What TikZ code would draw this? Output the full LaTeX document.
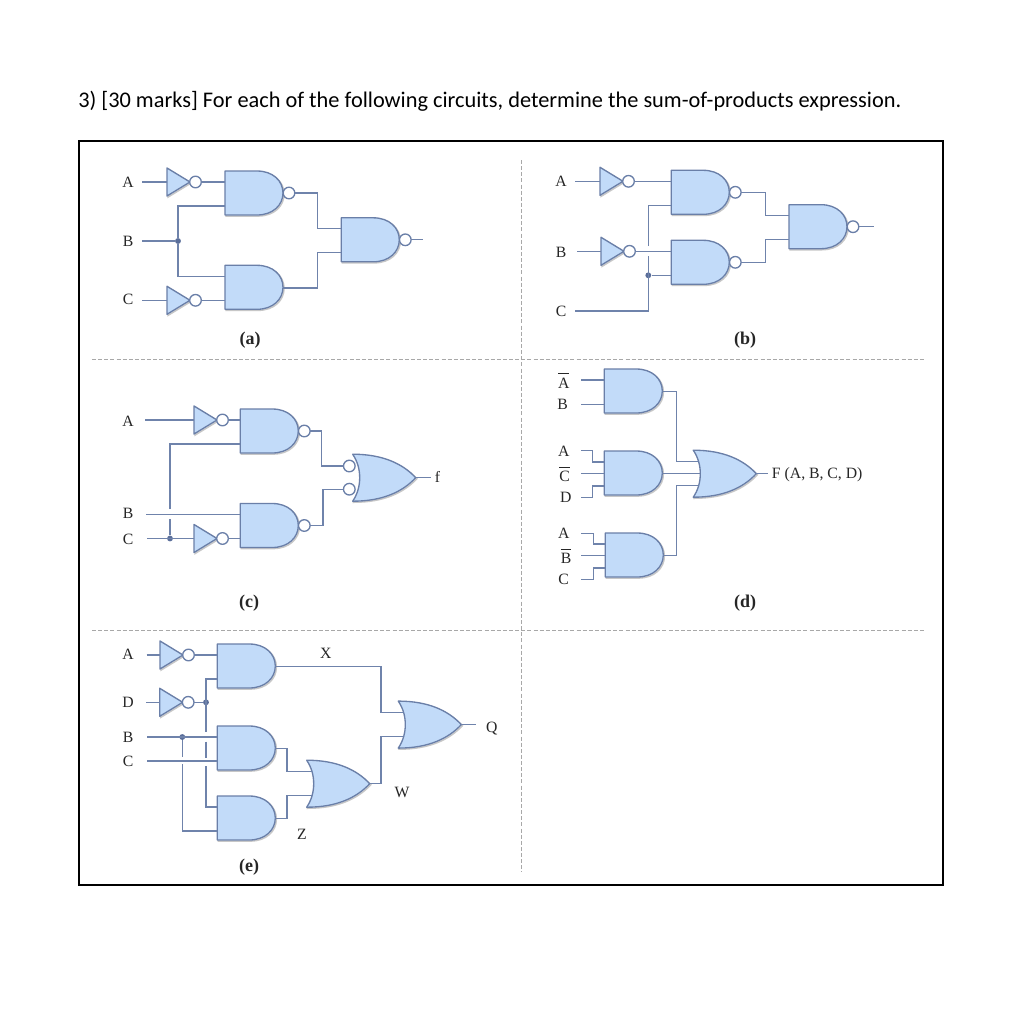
\documentclass[tikz,border=0pt]{standalone}
\usepackage{fontspec}
\setmainfont{Liberation Serif}
\newfontfamily\titlefont{Carlito}
\definecolor{gatefill}{HTML}{C2DBF9}
\definecolor{gateline}{HTML}{6A7FA8}
\definecolor{wirecol}{HTML}{6F83AB}
\definecolor{dotcol}{HTML}{5A6E9A}
\definecolor{sepcol}{HTML}{A8A8A8}
\tikzset{
  x=0.75pt,y=-0.75pt,
  wire/.style={draw=wirecol,line width=1pt},
  gatebody/.style={draw=gateline,line width=1pt,fill=gatefill,line join=round,
    preaction={draw=black!22,line width=1.1pt,transform canvas={xshift=.8pt,yshift=-.8pt}}},
  bubble/.style={draw=gateline,line width=1pt,fill=white},
  jdot/.style={circle,fill=dotcol,inner sep=0pt,minimum size=4.4pt},
  lab/.style={font=\fontsize{11.8}{13}\selectfont,inner sep=0pt,text=black!85},
  captext/.style={font=\fontsize{13.5}{15}\selectfont\bfseries,inner sep=0pt,text=black!85},
  sep/.style={draw=sepcol,line width=0.75pt,dash pattern=on 3pt off 1.6pt},
  andg/.pic={
    \path[gatebody] (0,0) -- (32,0) .. controls (48,0) and (58,10) .. (58,22)
       .. controls (58,34) and (48,44) .. (32,44) -- (0,44) -- cycle;
    \coordinate (-i1) at (0,11); \coordinate (-i2) at (0,35);
    \coordinate (-m) at (0,22.7); \coordinate (-o) at (58,22.7);
  },
  nandg/.pic={
    \path[gatebody] (0,0) -- (32,0) .. controls (48,0) and (58,10) .. (58,22)
       .. controls (58,34) and (48,44) .. (32,44) -- (0,44) -- cycle;
    \path[bubble] (64,22) circle[radius=5.8];
    \coordinate (-i1) at (0,11); \coordinate (-i2) at (0,35);
    \coordinate (-o) at (69.8,22);
  },
  invg/.pic={
    \path[gatebody] (0,-14) -- (23,0) -- (0,14) -- cycle;
    \path[bubble] (28.5,0) circle[radius=5.8];
    \coordinate (-i) at (0,0); \coordinate (-o) at (34.3,0);
  },
  org/.pic={
    \path[gatebody] (0,-23.5) .. controls (30,-23.5) and (50,-14) .. (63,0)
       .. controls (50,14) and (30,23.5) .. (0,23.5)
       .. controls (5,16) and (7,8) .. (7,0) .. controls (7,-8) and (5,-16) .. (0,-23.5) -- cycle;
    \coordinate (-i1) at (5,-12); \coordinate (-i2) at (5,12);
    \coordinate (-m) at (7,0); \coordinate (-o) at (63,0);
  },
  norg/.pic={
    \path[gatebody] (0,-23.5) .. controls (30,-23.5) and (50,-14) .. (63,0)
       .. controls (50,14) and (30,23.5) .. (0,23.5)
       .. controls (5,16) and (7,8) .. (7,0) .. controls (7,-8) and (5,-16) .. (0,-23.5) -- cycle;
    \path[bubble] (-3.4,-11.7) circle[radius=5.8];
    \path[bubble] (-3.4,11.5) circle[radius=5.8];
    \coordinate (-i1) at (-9.2,-11.7); \coordinate (-i2) at (-9.2,11.5);
    \coordinate (-o) at (63,0);
  },
}
\newcommand{\barred}[1]{$\overline{\hbox{\rule{0pt}{0.84em}#1}}$}
\begin{document}
\begin{tikzpicture}
\useasboundingbox (0,0) rectangle (1024,1018);
\path[fill=white] (0,0) rectangle (1024,1018);
\node[anchor=west,inner sep=0pt,font=\titlefont\fontsize{16.76}{20}\selectfont] (title) at (78,101.5)
  {3) [30 marks] For each of the following circuits, determine the sum-of-products expression.};
\node[draw=black,line width=1.1pt,inner sep=0pt,outer sep=0pt,minimum width=648pt,minimum height=558pt,anchor=north west] (frame) at (79,141) {};
% separators
\coordinate (sv1) at (521.5,160); \coordinate (sv2) at (521.5,872);
\coordinate (sh1) at (92,359.5); \coordinate (sh2) at (926,359.5);
\coordinate (sk1) at (92,630.5); \coordinate (sk2) at (926,630.5);
\draw[sep] (sv1) -- (sv2);
\draw[sep] (sh1) -- (sh2);
\draw[sep] (sk1) -- (sk2);

% ---------- (a)
\pic (ai1) at (167,182) {invg};
\pic (ai2) at (167,300.3) {invg};
\pic (a1) at (225,171) {nandg};
\pic (a2) at (225,265.3) {andg};
\pic (a3) at (341.3,217.8) {nandg};
\node[lab] (aA) at (128,182) {A};
\node[lab] (aB) at (128,241) {B};
\node[lab] (aC) at (128,299.5) {C};
\node[captext] (acap) at (250,340.5) {(a)};
\coordinate (aAs) at (142,182); \coordinate (aBs) at (142,241); \coordinate (aCs) at (142,300.3);
\coordinate (aout) at (423,239.8); \coordinate (am) at (317.3,200);
\node[jdot] (aj) at (178,241) {};
\draw[wire] (aAs) -- (ai1-i);
\draw[wire] (ai1-o) -- (a1-i1);
\draw[wire] (aCs) -- (ai2-i);
\draw[wire] (ai2-o) -- (a2-i2);
\draw[wire] (aBs) -- (aj);
\draw[wire] (a1-i2) -| (aj) |- (a2-i1);
\draw[wire] (a1-o) -| (am |- a3-i1) -- (a3-i1);
\draw[wire] (a2-o) -| (am |- a3-i2) -- (a3-i2);
\draw[wire] (a3-o) -- (aout);

% ---------- (b)
\pic (bi1) at (600,181.3) {invg};
\pic (bi2) at (601,251.3) {invg};
\pic (b1) at (671.3,170.3) {nandg};
\pic (b2) at (671.3,240.3) {nandg};
\pic (b3) at (789,204.7) {nandg};
\node[lab] (bA) at (561,181) {A};
\node[lab] (bB) at (561,252) {B};
\node[lab] (bC) at (561,311) {C};
\node[captext] (bcap) at (745,340.5) {(b)};
\coordinate (bAs) at (575,181.3); \coordinate (bBs) at (577,251.3); \coordinate (bCs) at (575,311);
\coordinate (bout) at (874,226.7); \coordinate (bm) at (765.7,200);
\coordinate (bv) at (648.3,311); \coordinate (bg1) at (648.3,246); \coordinate (bg2) at (648.3,255.5);
\node[jdot] (bj) at (648.3,275.3) {};
\draw[wire] (bAs) -- (bi1-i);
\draw[wire] (bi1-o) -- (b1-i1);
\draw[wire] (bBs) -- (bi2-i);
\draw[wire] (bi2-o) -- (b2-i1);
\draw[wire] (bj) -- (b2-i2);
\draw[wire] (bCs) -- (bv) -- (bg2);
\draw[wire] (bg1) |- (b1-i2);
\draw[wire] (b1-o) -| (bm |- b3-i1) -- (b3-i1);
\draw[wire] (b2-o) -| (bm |- b3-i2) -- (b3-i2);
\draw[wire] (b3-o) -- (bout);

% ---------- (c)
\pic (ci1) at (194,420) {invg};
\pic (ci2) at (194,538.5) {invg};
\pic (c1) at (240.3,409) {nandg};
\pic (c2) at (240.3,503.5) {nandg};
\pic (c3) at (352.7,477.7) {norg};
\node[lab] (cA) at (128,421) {A};
\node[lab] (cB) at (128,513) {B};
\node[lab] (cC) at (128,539) {C};
\node[lab,anchor=west] (cf) at (434.5,477) {f};
\node[captext] (ccap) at (249,603.5) {(c)};
\coordinate (cAs) at (145,420); \coordinate (cBs) at (146,514.5); \coordinate (cCs) at (147,538.5);
\coordinate (cout) at (430.7,477.7); \coordinate (cm1) at (321.7,440); \coordinate (cm2) at (323,500);
\coordinate (cg1) at (170,509); \coordinate (cg2) at (170,518.5);
\node[jdot] (cj) at (170,538.5) {};
\draw[wire] (cAs) -- (ci1-i);
\draw[wire] (ci1-o) -- (c1-i1);
\draw[wire] (cBs) -- (c2-i1);
\draw[wire] (cCs) -- (ci2-i);
\draw[wire] (ci2-o) -- (c2-i2);
\draw[wire] (cg1) |- (c1-i2);
\draw[wire] (cj) -- (cg2);
\draw[wire] (c1-o) -| (cm1 |- c3-i1) -- (c3-i1);
\draw[wire] (c2-o) -| (cm2 |- c3-i2) -- (c3-i2);
\draw[wire] (c3-o) -- (cout);

% ---------- (d)
\pic (d1) at (604.3,369) {andg};
\pic (d2) at (604.3,451) {andg};
\pic (d3) at (605.3,533) {andg};
\pic (d4) at (693.3,473.7) {org};
\node[lab] (dA1) at (563.7,380.5) {\barred{A}};
\node[lab] (dB1) at (562.7,404) {B};
\node[lab] (dA2) at (563.7,451.5) {A};
\node[lab] (dC2) at (564.7,474) {\barred{C}};
\node[lab] (dD2) at (565.7,497.7) {D};
\node[lab] (dA3) at (563.7,533.5) {A};
\node[lab] (dB3) at (566,556) {\barred{B}};
\node[lab] (dC3) at (563.7,579) {C};
\node[lab,anchor=west] (dF) at (771.7,474.5) {F (A, B, C, D)};
\node[captext] (dcap) at (745,603.5) {(d)};
\coordinate (d1a) at (581,380); \coordinate (d1b) at (581,404.3);
\coordinate (d2a) at (581,450.3); \coordinate (d2c) at (581,473.7); \coordinate (d2d) at (581,497.7);
\coordinate (d3a) at (581,533.7); \coordinate (d3b) at (581,555.7); \coordinate (d3c) at (581,579.7);
\coordinate (dx2) at (592.7,470); \coordinate (dx3) at (593.7,550); \coordinate (dm) at (676.3,470);
\coordinate (dout) at (768,473.7);
\draw[wire] (d1a) -- (d1a -| d1-i1);
\draw[wire] (d1b) -- (d1b -| d1-i1);
\draw[wire] (d2a) -| (dx2 |- d2-i1) -- (d2-i1);
\draw[wire] (d2c) -- (d2-m);
\draw[wire] (d2d) -| (dx2 |- d2-i2) -- (d2-i2);
\draw[wire] (d3a) -| (dx3 |- d3-i1) -- (d3-i1);
\draw[wire] (d3b) -- (d3-m);
\draw[wire] (d3c) -| (dx3 |- d3-i2) -- (d3-i2);
\draw[wire] (d1-o) -| (dm |- d4-i1) -- (d4-i1);
\draw[wire] (d2-o) -- (d4-m);
\draw[wire] (d3-o) -| (dm |- d4-i2) -- (d4-i2);
\draw[wire] (d4-o) -- (dout);

% ---------- (e)
\pic (ei1) at (160,655) {invg};
\pic (ei2) at (159.7,702.3) {invg};
\pic (e1) at (217.3,644) {andg};
\pic (e2) at (217.3,726) {andg};
\pic (e3) at (217.3,796) {andg};
\pic (e4) at (306.7,783.7) {org};
\pic (e5) at (398.3,724.6) {org};
\node[lab] (eA) at (128,654) {A};
\node[lab] (eD) at (128,702) {D};
\node[lab] (eB) at (128,737) {B};
\node[lab] (eC) at (128,761) {C};
\node[lab] (eX) at (325.7,653.5) {X};
\node[lab] (eW) at (402,792) {W};
\node[lab] (eZ) at (302,834) {Z};
\node[lab] (eQ) at (491.7,729) {Q};
\node[captext] (ecap) at (249,867.5) {(e)};
\coordinate (eAs) at (146.7,655); \coordinate (eDs) at (146,702.3);
\coordinate (eBs) at (147,737); \coordinate (eCs) at (147,761);
\coordinate (eout) at (476.3,724.6);
\coordinate (em1) at (381,700); \coordinate (em2) at (287,780);
\coordinate (eg1) at (206,731.7); \coordinate (eg2) at (206,741.7); \coordinate (eg3) at (206,758); \coordinate (eg4) at (206,766);
\coordinate (ebg1) at (182.3,756.7); \coordinate (ebg2) at (182.3,764);
\node[jdot] (ej1) at (206,702.3) {};
\node[jdot] (ej2) at (182.3,737) {};
\draw[wire] (eAs) -- (ei1-i);
\draw[wire] (ei1-o) -- (e1-i1);
\draw[wire] (eDs) -- (ei2-i);
\draw[wire] (ei2-o) -- (ej1);
\draw[wire] (e1-i2) -| (eg1);
\draw[wire] (eg2) -- (eg3);
\draw[wire] (eg4) |- (e3-i1);
\draw[wire] (eBs) -- (e2-i1 |- eBs);
\draw[wire] (eCs) -- (e2-i2 |- eCs);
\draw[wire] (ej2) -- (ebg1);
\draw[wire] (ebg2) |- (e3-i2);
\draw[wire] (e1-o) -| (em1 |- e5-i1) -- (e5-i1);
\draw[wire] (e4-o) -| (em1 |- e5-i2) -- (e5-i2);
\draw[wire] (e2-o) -| (em2 |- e4-i1) -- (e4-i1);
\draw[wire] (e3-o) -| (em2 |- e4-i2) -- (e4-i2);
\draw[wire] (e5-o) -- (eout);
\end{tikzpicture}
\end{document}
